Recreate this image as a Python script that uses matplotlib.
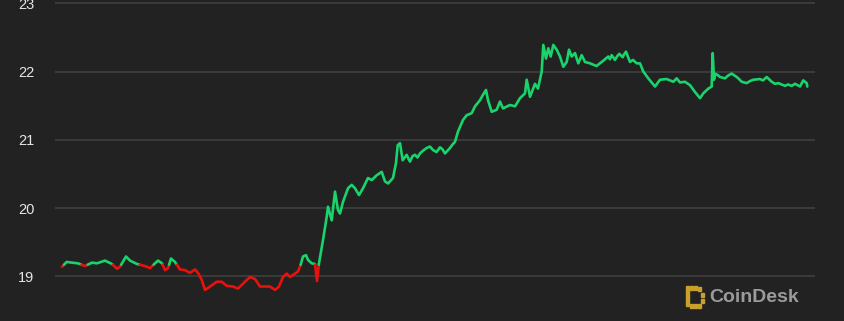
import matplotlib
matplotlib.use("Agg")
import matplotlib.pyplot as plt
from matplotlib.patches import Rectangle
import numpy as np

# time offsets (arbitrary units, start = 0) and prices
times = [0, 4.7, 10, 16, 23, 30, 35, 43, 50, 55, 58, 64, 68, 75, 83, 88, 93, 96, 100,
         103, 106, 109, 113, 118, 123, 128, 133, 136, 139.7, 143, 148, 154.7, 159.7,
         164.7, 171, 176, 183, 188, 193, 198, 203, 208, 213, 217, 221, 224.7, 228, 233,
         236, 238.7, 241, 244, 246, 249.7, 253, 255, 257, 261, 264.7, 266, 269.7, 273,
         276, 278, 281, 286, 289.7, 293, 297, 301, 306, 309.7, 314.7, 319.7, 323, 326,
         331, 334, 335.7, 338, 340.7, 344.7, 346.5, 348, 350.5, 353, 355.5, 358, 361,
         364.7, 368, 371, 374.5, 378, 380.5, 383, 385.5, 388, 390.5,
         393, 396, 401, 404.7, 409.7, 413, 418, 421, 424, 426, 429.7, 434.7, 438, 441,
         448, 453, 458, 463, 464.7, 468, 473, 476, 479.7, 481.3, 484, 486.3, 488.7,
         491.3, 494.7, 498, 501.3, 504.7, 507, 509.7, 513, 516.3, 519.7, 523, 528,
         534.7, 537, 539.7, 546.3, 548, 549.7, 553, 555, 557.3, 560.7, 562, 564, 568,
         571, 574.7, 578, 581.3,
         586.3, 593, 598, 604.7, 611.3, 614.7, 618, 623, 628, 633, 638, 641.3, 646.3,
         649.7, 650.7, 652, 653, 655.5, 658, 663, 666, 669.7, 674.7, 677, 679.7, 684.7,
         688, 691.3, 698, 701, 704.7, 709.7, 713, 716.3, 723, 726, 729.7, 733, 738,
         741.3, 744.7, 745.3]
prices = [19.14, 19.21, 19.20, 19.19, 19.15, 19.20, 19.19, 19.23, 19.18, 19.11, 19.14,
          19.29, 19.23, 19.18, 19.15, 19.12, 19.19, 19.23, 19.19, 19.09, 19.12, 19.26,
          19.21, 19.10, 19.09, 19.05, 19.10, 19.05, 18.95, 18.80, 18.85, 18.92, 18.92,
          18.86, 18.85, 18.82, 18.92, 18.99, 18.96, 18.85, 18.85, 18.85, 18.80, 18.85,
          18.99, 19.04, 18.99, 19.04, 19.07, 19.17, 19.29, 19.31, 19.24, 19.19, 19.18,
          18.93, 19.19, 19.53, 19.87, 20.02, 19.82, 20.24, 19.97, 19.92, 20.09, 20.29,
          20.34, 20.29, 20.19, 20.29, 20.44, 20.41, 20.48, 20.53, 20.39, 20.36, 20.44,
          20.66, 20.92, 20.95, 20.70, 20.78, 20.72, 20.68, 20.76, 20.78, 20.74, 20.80,
          20.84, 20.88, 20.90, 20.85, 20.82, 20.89, 20.86, 20.80, 20.84, 20.88, 20.93,
          20.97, 21.12, 21.29, 21.36, 21.39, 21.49, 21.58, 21.66, 21.73,
          21.58, 21.41, 21.44, 21.56, 21.46, 21.51, 21.49, 21.61, 21.68, 21.88, 21.63,
          21.82, 21.75, 22.00, 22.39, 22.19, 22.34, 22.22, 22.39, 22.32, 22.22, 22.07,
          22.14, 22.32, 22.22, 22.27, 22.12, 22.24, 22.14, 22.12, 22.08, 22.11, 22.14,
          22.22, 22.18, 22.24, 22.17, 22.22, 22.26, 22.21, 22.25, 22.29, 22.14, 22.17,
          22.12, 22.12, 22.00, 21.90, 21.78,
          21.88, 21.89, 21.85, 21.90, 21.84, 21.85, 21.80, 21.70, 21.61, 21.68, 21.75,
          21.78, 22.27, 21.88, 21.97, 21.95, 21.92, 21.90, 21.94, 21.97, 21.92, 21.89,
          21.85, 21.83, 21.86, 21.88, 21.89, 21.87, 21.92, 21.85, 21.82, 21.83, 21.79,
          21.81, 21.79, 21.82, 21.78, 21.87, 21.83, 21.78]
baseline = 19.17
y_ticks = [19, 20, 21, 22, 23]

BG = "#222222"
GREEN = "#19d36b"
RED = "#e8120c"
GRID = "#3d3d3d"

fig = plt.figure(figsize=(8.45, 3.21), dpi=100, facecolor=BG)
ax = fig.add_axes([55 / 845, 0, 760 / 845, 1])
ax.set_facecolor(BG)

# split into green/red pieces at baseline crossings
t = np.asarray(times, dtype=float)
p = np.asarray(prices, dtype=float)
seg_t, seg_p = [t[0]], [p[0]]
cur_up = p[0] >= baseline
pieces = []
for i in range(1, len(t)):
    up = p[i] >= baseline
    if up != cur_up:
        frac = (baseline - p[i - 1]) / (p[i] - p[i - 1])
        tc = t[i - 1] + frac * (t[i] - t[i - 1])
        seg_t.append(tc); seg_p.append(baseline)
        pieces.append((seg_t, seg_p, cur_up))
        seg_t, seg_p = [tc], [baseline]
        cur_up = up
    seg_t.append(t[i]); seg_p.append(p[i])
pieces.append((seg_t, seg_p, cur_up))

for st, sp, up in pieces:
    ax.plot(st, sp, color=GREEN if up else RED, lw=1.9, solid_joinstyle="round",
            solid_capstyle="round", zorder=3)

ax.set_xlim(-7, 753)
ax.set_ylim(18.345, 23.048)
ax.set_yticks(y_ticks)
ax.set_yticklabels([str(v) for v in y_ticks])
ax.tick_params(axis="y", length=0, pad=15, labelsize=10.5, labelcolor="#e6e6e6")
for lab in ax.get_yticklabels():
    lab.set_family(["Liberation Sans", "DejaVu Sans"])
ax.set_xticks([])
ax.grid(axis="y", color=GRID, lw=1.3)
ax.set_axisbelow(True)
for s in ax.spines.values():
    s.set_visible(False)

# CoinDesk logo (decoration)
GOLD = "#c9a02a"
W, H = 845, 321
def px_rect(x, y, w, h):
    fig.patches.append(Rectangle((x / W, 1 - (y + h) / H), w / W, h / H,
                                 transform=fig.transFigure, color=GOLD, zorder=5))
for (x, y) in [(686, 286), (690, 286), (694, 286), (698, 287),
               (686, 290), (686, 294), (686, 298), (686, 302),
               (690, 304), (694, 304), (698, 304), (701, 293), (701, 299)]:
    px_rect(x, y, 3.5, 3.5)
fig.text(709 / W, 1 - 297 / H, "CoinDesk", color="#9b9b9b", fontsize=14,
         fontweight="bold", family=["Liberation Sans", "DejaVu Sans"],
         va="center", ha="left")

fig.savefig("out.png", dpi=100, facecolor=BG)
